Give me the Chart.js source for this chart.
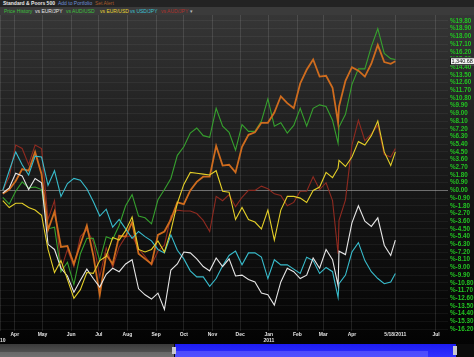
<!DOCTYPE html>
<html><head><meta charset="utf-8">
<script src="https://cdn.jsdelivr.net/npm/chart.js@4"></script>
<style>
html,body{margin:0;padding:0;background:#000;width:474px;height:357px;overflow:hidden;font-family:"Liberation Sans",Arial,sans-serif}
#wrap{position:relative;width:474px;height:357px}
#c{position:absolute;left:0;top:0}
.hdr{position:absolute;left:0;top:0;width:474px;height:7px;background:#232323;z-index:2}
.leg{position:absolute;left:0;top:7px;width:474px;height:8px;background:#3b3b3b;z-index:2}
.t{position:absolute;white-space:nowrap;font-size:5px;line-height:7px;font-weight:normal}
</style></head>
<body><div id="wrap">
<canvas id="c" width="474" height="357"></canvas>
<div class="hdr">
 <span class="t" style="left:3px;top:0;color:#e8e8e8;font-weight:bold">Standard &amp; Poors 500</span>
 <span class="t" style="left:58px;top:0;color:#6f8fd8">Add to Portfolio</span>
 <span class="t" style="left:95px;top:0;color:#a85a2a">Set Alert</span>
</div>
<div class="leg">
 <span class="t" style="left:4px;top:0.5px;color:#3cc03c">Price History</span>
 <span class="t" style="left:35px;top:0.5px;color:#e8e8e8">vs EUR/JPY</span>
 <span class="t" style="left:66px;top:0.5px;color:#3cc03c">vs AUD/USD</span>
 <span class="t" style="left:100px;top:0.5px;color:#e8d430">vs EUR/USD</span>
 <span class="t" style="left:130px;top:0.5px;color:#3cc4d4">vs USD/JPY</span>
 <span class="t" style="left:161px;top:0.5px;color:#b0302a">vs AUD/JPY</span>
 <span class="t" style="left:190px;top:0.5px;color:#bbb">&#9662;</span>
</div>
</div>
<script>
// days counted from 2010-03-16
const days = [3,10,17,24,31,38,45,52,59,66,73,80,87,94,101,108,115,122,129,136,143,150,157,164,171,178,185,192,199,206,213,220,227,234,241,248,255,262,269,276,283,290,297,304,311,318,325,332,339,346,353,360,366,367,374,381,388,395,402,409,416,423,428];
const sp500 = [-0.4,0.1,1.1,2.5,2.3,4.5,1.9,-4.6,-2.5,-6.6,-6.5,-8.6,-6.3,-4.1,-7.6,-12.2,-7.5,-8.6,-5.3,-5.4,-3.7,-7.4,-8.0,-8.6,-5.2,-4.8,-3.4,-1.4,-1.6,0.0,1.0,1.6,1.6,5.2,2.9,3.0,2.1,5.1,6.5,6.8,7.9,7.9,9.1,11.0,10.2,9.6,12.5,14.1,15.3,13.3,13.4,12.0,7.9,9.8,12.8,14.4,14.0,13.3,14.8,17.0,15.0,14.8,15.1];
const audusd = [-0.8,-1.6,-0.1,1.0,0.3,0.4,0.1,-4.5,-4.3,-9.5,-8.4,-11.0,-7.4,-5.6,-5.6,-8.2,-5.4,-5.7,-4.1,-1.8,-0.5,-3.0,-3.2,-3.9,-1.1,0.1,1.4,4.1,5.1,6.7,7.3,6.4,6.2,9.6,7.5,6.8,4.7,7.7,6.9,6.9,8.1,10.7,7.5,7.9,6.7,7.6,9.6,7.5,9.6,10.0,9.8,8.2,5.5,7.4,8.9,12.4,14.2,14.2,16.8,18.9,16.0,15.4,15.3];
const eurusd = [-1.2,-2.0,-1.5,-1.5,-2.0,-2.3,-2.9,-6.9,-9.6,-8.2,-10.4,-12.6,-11.6,-9.6,-9.7,-8.2,-7.7,-5.5,-5.8,-4.7,-3.1,-6.9,-7.2,-6.9,-5.9,-7.2,-4.7,-1.5,0.7,2.1,2.0,1.9,1.8,2.3,-0.1,-0.2,-3.4,-2.0,-3.4,-3.7,-4.5,-2.3,-5.8,-2.3,-0.7,-0.7,-0.9,-1.4,0.0,0.4,2.1,1.5,2.6,3.5,2.8,3.9,5.7,5.3,6.4,8.1,4.5,2.9,4.5];
const eurjpy = [-0.3,0.3,2.0,1.7,0.1,1.4,0.9,-6.3,-6.9,-9.1,-10.0,-11.9,-10.5,-9.2,-10.3,-11.3,-9.8,-9.1,-9.5,-8.6,-8.1,-11.5,-12.2,-12.7,-12.0,-13.9,-9.3,-8.6,-7.2,-7.3,-8.0,-8.9,-9.4,-7.9,-8.9,-8.0,-10.0,-9.9,-10.4,-10.7,-12.0,-12.2,-13.4,-10.7,-9.1,-9.5,-10.3,-9.9,-7.9,-9.1,-6.9,-8.1,-11.1,-7.1,-7.5,-3.8,-1.8,-3.6,-4.2,-3.2,-6.4,-7.6,-5.8];
const usdjpy = [0.0,2.3,4.5,3.0,1.8,4.0,3.9,0.6,2.3,-0.7,0.8,1.4,1.2,0.2,-1.3,-3.0,-2.2,-4.3,-3.4,-4.5,-5.6,-4.8,-5.4,-5.9,-6.9,-7.3,-5.2,-7.0,-8.0,-9.4,-10.1,-10.1,-11.2,-10.3,-8.8,-7.6,-7.1,-8.7,-7.3,-7.3,-7.8,-10.3,-8.1,-8.7,-8.7,-9.2,-9.7,-7.8,-8.2,-9.7,-9.0,-9.5,-12.5,-10.9,-9.9,-7.2,-6.1,-8.2,-9.5,-10.3,-10.9,-10.7,-9.7];
const audjpy = [0.0,1.6,5.3,4.9,3.0,5.3,4.9,-3.4,-1.2,-9.3,-6.9,-8.9,-5.4,-4.6,-6.0,-10.1,-6.7,-9.0,-6.6,-5.4,-5.3,-6.8,-7.7,-8.7,-7.1,-6.4,-3.0,-2.3,-2.4,-2.4,-2.7,-3.5,-4.8,-0.7,-1.2,-0.5,-1.9,-0.8,0.0,0.0,0.5,0.2,-0.4,-0.6,-1.8,-1.4,-0.1,-0.1,1.6,0.1,0.9,-1.2,-7.4,-3.5,-1.1,5.3,8.2,5.8,6.6,7.6,4.2,3.9,4.9];

const xTickDays = [0,16,46,77,107,138,169,199,230,260,291,322,350,381,428,472];
const xTickLabels = [['','2010'],'Apr','May','Jun','Jul','Aug','Sep','Oct','Nov','Dec',['Jan','2011'],'Feb','Mar','Apr','5/18/2011','Jul'];
const yTicks = [19.8,18.9,18.0,17.1,16.2,15.3,14.4,13.5,12.6,11.7,10.8,9.9,9.0,8.1,7.2,6.3,5.4,4.5,3.6,2.7,1.8,0.9,0.0,-0.9,-1.8,-2.7,-3.6,-4.5,-5.4,-6.3,-7.2,-8.1,-9.0,-9.9,-10.8,-11.7,-12.6,-13.5,-14.4,-15.3,-16.2];
const lastPriceLabel = '1,340.68';

const FAM = '"Liberation Sans", Arial, sans-serif';
const pts = arr => days.map((d, i) => ({x: d, y: arr[i]}));

const bgPlugin = {
  id: 'bg',
  beforeDraw(chart) {
    const c = chart.ctx;
    const g = c.createLinearGradient(0, 15, 0, 344);
    g.addColorStop(0, '#363636');
    g.addColorStop(0.25, '#252525');
    g.addColorStop(0.55, '#151515');
    g.addColorStop(1, '#030303');
    c.save();
    c.fillStyle = g;
    c.fillRect(0, 15, 474, 329);
    c.restore();
  },
  afterDraw(chart) {
    const c = chart.ctx;
    c.save();
    c.fillStyle = '#0b0b0b';
    c.fillRect(0, 344, 474, 13);
    let g = c.createLinearGradient(0, 344, 0, 357);
    g.addColorStop(0, '#3a3a3a'); g.addColorStop(1, '#5e5e5e');
    c.fillStyle = g; c.fillRect(0, 344, 174, 13);
    c.fillStyle = 'rgba(150,150,150,0.35)'; c.fillRect(0, 352, 174, 5);
    g = c.createLinearGradient(0, 344, 0, 357);
    g.addColorStop(0, '#1c1cf4'); g.addColorStop(1, '#3030ff');
    c.fillStyle = g; c.fillRect(175, 344, 281, 13);
    c.fillStyle = 'rgba(120,120,255,0.45)'; c.fillRect(175, 351, 253, 6);
    c.fillStyle = '#c8c8d0';
    c.fillRect(172, 347, 4, 7);
    c.fillRect(453, 346, 4, 9);
    c.restore();
  },
  afterDatasetsDraw(chart) {
    const c = chart.ctx;
    const y = chart.scales.y.getPixelForValue(sp500[sp500.length - 1]);
    c.save();
    c.fillStyle = '#f2f2f2';
    c.strokeStyle = '#111';
    c.lineWidth = 1;
    c.fillRect(450, y - 4, 24, 8);
    c.strokeRect(450.5, y - 3.5, 24, 7);
    c.fillStyle = '#111';
    c.font = '5.5px ' + FAM;
    c.textBaseline = 'middle';
    c.fillText(lastPriceLabel, 451.5, y + 0.3);
    c.restore();
  }
};

const ds = (label, arr, color, w, order) => ({
  label, data: pts(arr), borderColor: color, borderWidth: w,
  pointRadius: 0, tension: 0, fill: false, order
});

new Chart(document.getElementById('c'), {
  type: 'line',
  data: {
    datasets: [
      ds('vs AUD/JPY', audjpy, '#8e2a20', 1.1, 6),
      ds('vs AUD/USD', audusd, '#36a02e', 1.1, 5),
      ds('Price History', sp500, '#cf6c1e', 1.8, 4),
      ds('vs USD/JPY', usdjpy, '#38bccc', 1.1, 3),
      ds('vs EUR/JPY', eurjpy, '#e6e6e6', 1.1, 2),
      ds('vs EUR/USD', eurusd, '#e4cf28', 1.1, 1)
    ]
  },
  options: {
    responsive: false, animation: false, devicePixelRatio: 1,
    layout: {padding: {top: 15, bottom: 14, left: 0, right: 0}},
    plugins: {legend: {display: false}, tooltip: {enabled: false}},
    scales: {
      x: {
        type: 'linear', min: 0, max: 485,
        afterBuildTicks: s => { s.ticks = xTickDays.map(v => ({value: v})); },
        afterFit: s => { s.height = 12; s.paddingLeft = 0; s.paddingRight = 0; },
        ticks: {
          callback: (v, i) => xTickLabels[i],
          color: '#e2e2e2', autoSkip: false, maxRotation: 0, minRotation: 0, padding: 1,
          font: {size: 5, weight: 'bold', family: FAM, lineHeight: 1.2}
        },
        grid: {color: 'rgba(255,255,255,0.11)', drawTicks: false, lineWidth: 1},
        border: {display: false}
      },
      y: {
        type: 'linear', position: 'right', min: -16.43, max: 20.5,
        afterBuildTicks: s => { s.ticks = yTicks.map(v => ({value: v})); },
        afterFit: s => { s.width = 26; s.paddingTop = 0; s.paddingBottom = 0; },
        ticks: {
          callback: v => '%' + v.toFixed(2),
          color: '#22c422', autoSkip: false, padding: 2,
          font: {size: 6.3, weight: 'bold', family: FAM}
        },
        grid: {
          color: c => (c.tick && c.tick.value === 0) ? 'rgba(170,170,170,0.6)' : 'rgba(255,255,255,0.05)',
          drawTicks: false, lineWidth: 1
        },
        border: {display: false}
      }
    }
  },
  plugins: [bgPlugin]
});
</script>
</body></html>
